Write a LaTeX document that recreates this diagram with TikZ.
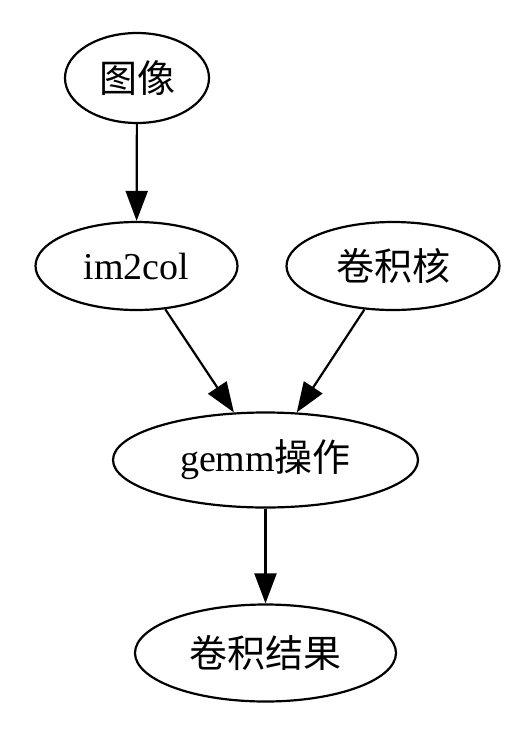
\documentclass[tikz,border=0pt]{standalone}
\usepackage{fontspec}
\setmainfont{Liberation Serif}
\newfontfamily\cjk{Noto Sans CJK SC}
\usetikzlibrary{shapes.geometric,arrows.meta}
\begin{document}
\begin{tikzpicture}[x=1pt,y=-1pt,
  nd/.style={draw=black,line width=2.2pt,ellipse,inner sep=0pt,
    font=\fontsize{38}{42}\selectfont},
  edge/.style={draw=black,line width=2.2pt,-{Triangle[length=30pt,width=22pt]}}]
\useasboundingbox (0,0) rectangle (524,742);
\node[nd,minimum width=144pt,minimum height=90pt] (img) at (137,78) {\cjk 图像};
\node[nd,minimum width=202pt,minimum height=88pt] (im2col) at (136.5,266) {im2col};
\node[nd,minimum width=213pt,minimum height=88pt] (kernel) at (393,266) {\cjk 卷积核};
\node[nd,minimum width=305pt,minimum height=95pt] (gemm) at (265.5,460) {gemm{\cjk 操作}};
\node[nd,minimum width=261pt,minimum height=97pt] (res) at (265.5,653) {\cjk 卷积结果};
\draw[edge] (img) -- (im2col);
\draw[edge] (im2col) -- (gemm);
\draw[edge] (kernel) -- (gemm);
\draw[edge] (gemm) -- (res);
\end{tikzpicture}
\end{document}
